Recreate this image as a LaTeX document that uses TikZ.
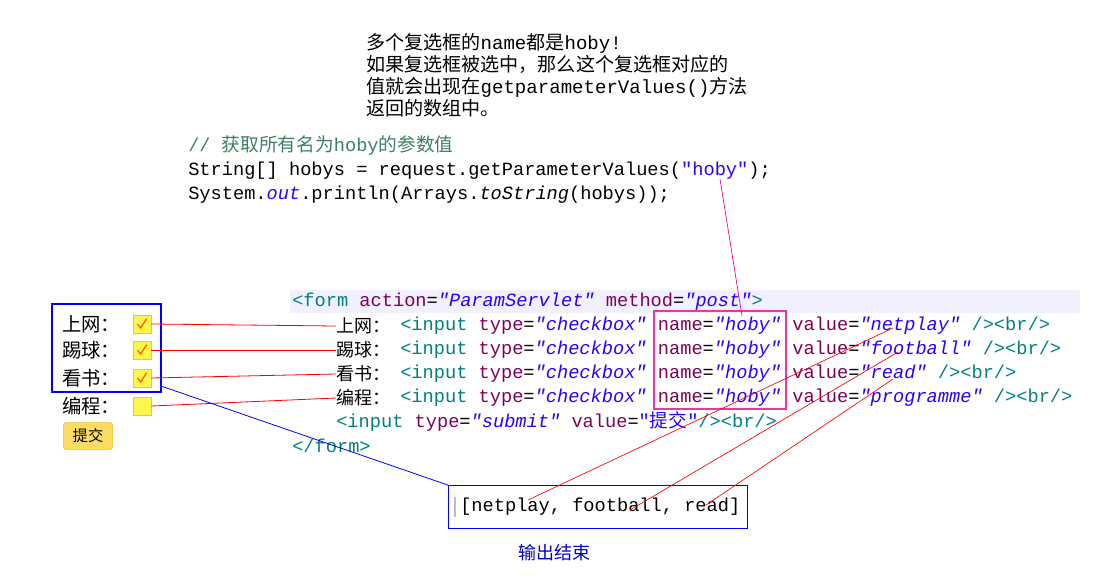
\documentclass[tikz,border=0pt]{standalone}
\usepackage{fontspec}
\setmonofont{Liberation Mono}
\newfontfamily\cjk{Noto Sans CJK SC}
\begin{document}
\begin{tikzpicture}[x=0.75pt,y=-0.75pt,
  code/.style={anchor=west,inner sep=0pt,font=\fontsize{14}{16}\selectfont\ttfamily},
  cn/.style={anchor=west,inner sep=0pt,font=\fontsize{13.5}{16}\selectfont\cjk},
  cb/.style={draw=yellow!60!orange,fill=yellow!70,minimum size=13.5pt,inner sep=0pt},
  link/.style={red,line width=0.6pt}]
\definecolor{tg}{RGB}{0,128,128}\definecolor{at}{RGB}{127,0,85}\definecolor{vl}{RGB}{42,0,255}
\definecolor{cm}{RGB}{63,127,95}
\newcommand{\T}[1]{\textcolor{tg}{#1}}
\newcommand{\A}[1]{\textcolor{at}{#1}}
\newcommand{\V}[1]{\textcolor{vl}{\itshape #1}}
\useasboundingbox (0,0) rectangle (1109,575);
% top note
\node[anchor=north west,align=left,inner sep=0pt,font=\fontsize{14.3}{16.5}\selectfont\cjk] (note) at (366,33)
 {多个复选框的\texttt{name}都是\texttt{hoby!}\\如果复选框被选中，那么这个复选框对应的\\值就会出现在\texttt{getparameterValues()}方法\\返回的数组中。};
% java code
\node[code] (c1) at (188,146) {\textcolor{cm}{// {\cjk 获取所有名为}hoby{\cjk 的参数值}}};
\node[code] (c2) at (188,171) {String[] hobys = request.getParameterValues(\textcolor{vl}{"hoby"});};
\node[code] (c3) at (188,195) {System.\V{out}.println(Arrays.{\itshape toString}(hobys));};
% form
\fill[blue!6] (290,290) rectangle (1080,313);
\node[code] (f0) at (292,302) {\T{<form} \A{action}=\V{"ParamServlet"} \A{method}=\V{"post"}\T{>}};
\foreach \y/\lab/\val/\n in {326/上网/netplay/1,350/踢球/football/2,374/看书/read/3,398/编程/programme/4}{
  \node[cn] (l\n) at (336,\y) {\lab：};
  \node[code] (i\n) at (400,\y) {\T{<input} \A{type}=\V{"checkbox"} \A{name}=\V{"hoby"} \A{value}=\V{"\val"} \T{/><br/>}};
}
\node[code] (sub) at (336,422) {\T{<input} \A{type}=\V{"submit"} \A{value}=\textcolor{vl}{"{\cjk\itshape 提交}"}\T{/><br/>}};
\node[code] (fe) at (292,446) {\T{</form>}};
% left form
\draw[blue,line width=0.8pt] (52,304) rectangle (161,392);
\foreach \y/\lab/\n in {324/上网/1,350/踢球/2,378/看书/3,406/编程/4}{
  \node[cn,font=\fontsize{14.5}{16}\selectfont\cjk] (L\n) at (62,\y) {\lab：};
  \node[cb] (b\n) at (142,\y) {};
}
\foreach \n in {1,2,3}{\draw[orange!80!red,line width=1pt] ([xshift=-3.5pt,yshift=0pt]b\n.center) -- ([xshift=-1pt,yshift=-3pt]b\n.center) -- ([xshift=3.5pt,yshift=4pt]b\n.center);}
\node[draw=yellow!50!brown,fill=yellow!60!orange!60,rounded corners=2pt,minimum width=37pt,minimum height=20pt,inner sep=0pt,font=\fontsize{11.5}{13}\selectfont\cjk] (btn) at (88,436) {提交};
% pink box
\draw[magenta!80,line width=0.8pt] (654,311) rectangle (786,409);
\coordinate (hq) at (720,179);
\draw[magenta,line width=0.5pt] (hq) -- (742,316);
% links
\draw[link] (b1.east) -- (l1.west);
\draw[link] (b2.east) -- (l2.west);
\draw[link] (b3.east) -- (l3.west);
\draw[link] (b4.east) -- (l4.west);
% output box
\node[draw=blue,line width=0.8pt,minimum width=224pt,minimum height=32pt,inner sep=0pt] (out) at (598,507) {};
\fill[gray!50] (454,497) rectangle (456,517);
\node[code] (outt) at (460,507) {[netplay, football, read]};
\draw[blue,line width=0.6pt] (161,386) -- (out.north west);
\coordinate (v1) at (893,328);\coordinate (v2) at (898,352);\coordinate (v3) at (893,379);
\draw[link,line width=0.5pt] (v1) -- (528,500);
\draw[link,line width=0.5pt] (v2) -- (630,510);
\draw[link,line width=0.5pt] (v3) -- (706,505);
\node[cn,text=blue!80!black] (end) at (518,553) {输出结束};
\end{tikzpicture}
\end{document}
